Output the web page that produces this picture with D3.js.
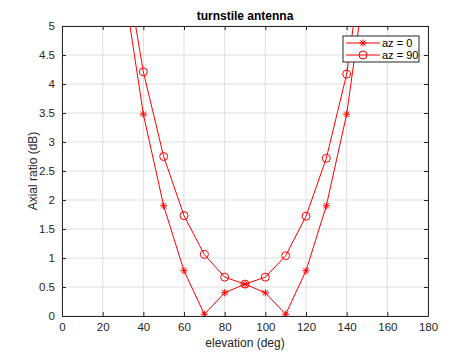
<!DOCTYPE html>
<html><head><meta charset="utf-8">
<script src="https://cdn.jsdelivr.net/npm/d3@7"></script>
<style>body{margin:0;background:#fff}svg{display:block}text{font-family:"Liberation Sans",Arial,sans-serif}</style>
</head><body><svg id="c" width="474" height="355"></svg>
<script>
const elevation = [30, 40, 50, 60, 70, 80, 90, 100, 110, 120, 130, 140, 150];
const az0 = [5.8, 3.48, 1.9, 0.78, 0.03, 0.4, 0.55, 0.4, 0.03, 0.78, 1.9, 3.48, 6.0];
const az90 = [6.3, 4.21, 2.75, 1.73, 1.06, 0.67, 0.55, 0.67, 1.04, 1.72, 2.72, 4.17, 6.7];
const xTicks = [0, 20, 40, 60, 80, 100, 120, 140, 160, 180];
const yTicks = [0, 0.5, 1, 1.5, 2, 2.5, 3, 3.5, 4, 4.5, 5];
const seriesNames = ["az = 0", "az = 90"];

const svg = d3.select("#c");
const L = 62, R = 428, T = 26, B = 316;
const x = d3.scaleLinear().domain([0, 180]).range([L, R]);
const y = d3.scaleLinear().domain([0, 5]).range([B, T]);
const red = "#ff0000", axc = "#262626";

svg.append("defs").append("clipPath").attr("id", "clip")
  .append("rect").attr("x", L).attr("y", T).attr("width", R - L).attr("height", B - T);

// grid
const g = svg.append("g");
g.selectAll(".gx").data(xTicks).enter().append("line")
  .attr("x1", d => x(d)).attr("x2", d => x(d)).attr("y1", T).attr("y2", B)
  .attr("stroke", "#dfdfdf").attr("stroke-width", 1);
g.selectAll(".gy").data(yTicks).enter().append("line")
  .attr("y1", d => y(d)).attr("y2", d => y(d)).attr("x1", L).attr("x2", R)
  .attr("stroke", "#dfdfdf").attr("stroke-width", 1);

// axes
const xAxisB = d3.axisBottom(x).tickValues(xTicks).tickSizeInner(-4).tickSizeOuter(0).tickPadding(7).tickFormat(d3.format("d"));
const xAxisT = d3.axisTop(x).tickValues(xTicks).tickSizeInner(-4).tickSizeOuter(0).tickFormat("");
const yAxisL = d3.axisLeft(y).tickValues(yTicks).tickSizeInner(-4).tickSizeOuter(0).tickPadding(7).tickFormat(d => d3.format("")(d));
const yAxisR = d3.axisRight(y).tickValues(yTicks).tickSizeInner(-4).tickSizeOuter(0).tickFormat("");
function style(sel) {
  sel.selectAll("path").attr("stroke", axc);
  sel.selectAll("line").attr("stroke", axc);
  sel.selectAll("text").attr("fill", axc).style("font-size", "11.5px").style("font-family", "Liberation Sans, Arial, sans-serif");
}
svg.append("g").attr("transform", `translate(0,${B})`).call(xAxisB).call(style);
svg.append("g").attr("transform", `translate(0,${T})`).call(xAxisT).call(style);
svg.append("g").attr("transform", `translate(${L},0)`).call(yAxisL).call(style);
svg.append("g").attr("transform", `translate(${R},0)`).call(yAxisR).call(style);

// data
const line = d3.line().x(d => x(d[0])).y(d => y(d[1]));
const plot = svg.append("g").attr("clip-path", "url(#clip)");
const d0 = elevation.map((e, i) => [e, az0[i]]);
const d90 = elevation.map((e, i) => [e, az90[i]]);
plot.append("path").datum(d0).attr("d", line).attr("fill", "none").attr("stroke", red).attr("stroke-width", 1);
plot.append("path").datum(d90).attr("d", line).attr("fill", "none").attr("stroke", red).attr("stroke-width", 1);

const s = 3.6, s2 = 2.6;
const starPath = `M${-s},0L${s},0M0,${-s}L0,${s}M${-s2},${-s2}L${s2},${s2}M${-s2},${s2}L${s2},${-s2}`;
function stars(sel, data) {
  sel.selectAll(null).data(data).enter().append("path")
    .attr("transform", d => `translate(${x(d[0])},${y(d[1])})`)
    .attr("d", starPath).attr("stroke", red).attr("stroke-width", 1).attr("fill", "none");
}
function circles(sel, data) {
  sel.selectAll(null).data(data).enter().append("circle")
    .attr("cx", d => x(d[0])).attr("cy", d => y(d[1])).attr("r", 4)
    .attr("stroke", red).attr("stroke-width", 1).attr("fill", "none");
}
stars(plot, d0);
circles(plot, d90);

// legend
const lg = svg.append("g");
lg.append("rect").attr("x", 343).attr("y", 36).attr("width", 76).attr("height", 26)
  .attr("fill", "#fff").attr("stroke", axc).attr("stroke-width", 1);
const ly = [43, 55];
[0, 1].forEach(i => {
  lg.append("line").attr("x1", 346).attr("x2", 380).attr("y1", ly[i]).attr("y2", ly[i]).attr("stroke", red);
  if (i === 0) stars(lg, [[x.invert(363), y.invert(ly[i])]]);
  else circles(lg, [[x.invert(363), y.invert(ly[i])]]);
  lg.append("text").attr("x", 382).attr("y", ly[i] + 4).text(seriesNames[i])
    .style("font-size", "11px").attr("fill", "#000");
});

// labels
svg.append("text").attr("x", (L + R) / 2).attr("y", 20).attr("text-anchor", "middle")
  .style("font-size", "12px").style("font-weight", "bold").attr("fill", "#000").text("turnstile antenna");
svg.append("text").attr("x", (L + R) / 2).attr("y", 347).attr("text-anchor", "middle")
  .style("font-size", "12px").attr("fill", axc).text("elevation (deg)");
svg.append("text").attr("transform", `translate(37,${(T + B) / 2}) rotate(-90)`).attr("text-anchor", "middle")
  .style("font-size", "12px").attr("fill", axc).text("Axial ratio (dB)");
</script></body></html>
